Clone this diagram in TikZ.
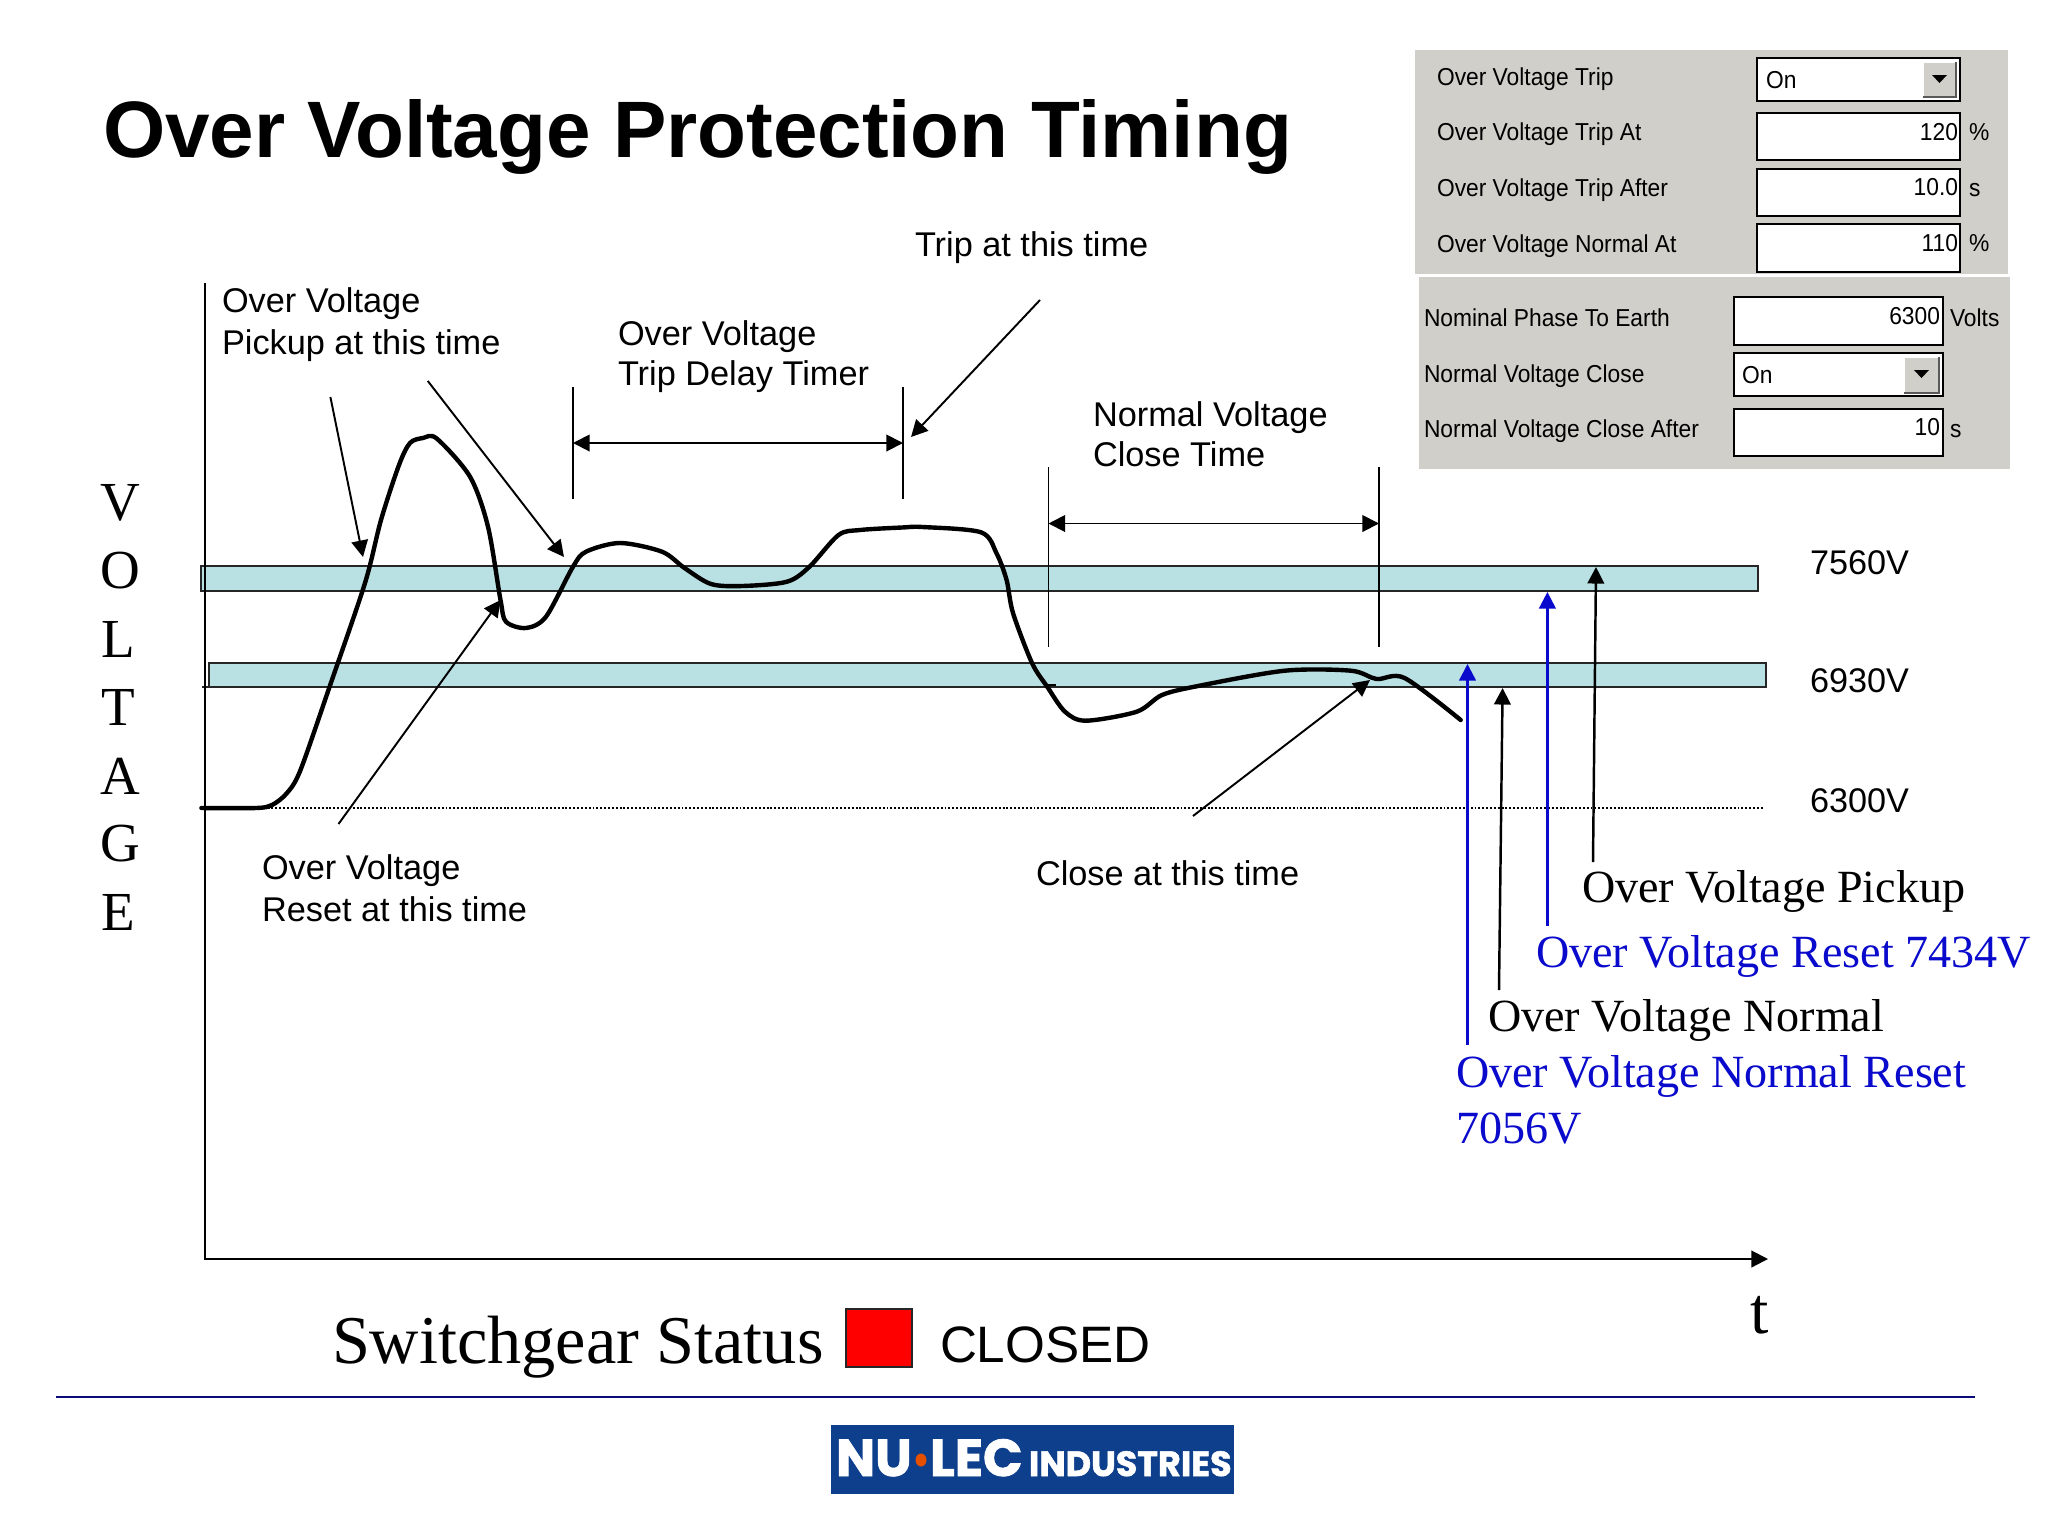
\documentclass[tikz,border=0pt]{standalone}
\usepackage{fontspec}
\setmainfont{Liberation Sans}
\newfontfamily\tmsf{Liberation Serif}
\newfontfamily\panf[FakeStretch=0.93]{Liberation Sans}
\newfontfamily\logof[BoldFeatures={FakeBold=1.5}]{Poppins}
\usetikzlibrary{arrows.meta}
\definecolor{bandc}{HTML}{B9E0E3}
\definecolor{panelc}{HTML}{D1CFC9}
\definecolor{bluec}{HTML}{0A0ACD}
\definecolor{logoc}{HTML}{0D3F8C}
\definecolor{ruleb}{HTML}{0A0A78}
\newcommand{\fsz}[1]{\pgfmathsetmacro{\tmpa}{#1*0.2845}\pgfmathsetmacro{\tmpb}{#1*0.34}\fontsize{\tmpa}{\tmpb}\selectfont}
\tikzset{
  lab/.style={anchor=base west,inner sep=0pt,outer sep=0pt,font=\fsz{34.3}},
  lev/.style={lab,font=\fsz{34.2}},
  ser/.style={lab,font=\tmsf\fsz{46.1}},
  serb/.style={ser,text=bluec},
  vl/.style={anchor=base,inner sep=0pt,outer sep=0pt,font=\tmsf\fsz{55}},
  pl/.style={anchor=base west,inner sep=0pt,outer sep=0pt,font=\panf\fsz{24.5},text=black},
  pr/.style={pl,anchor=base east},
  thin1/.style={line width=0.55pt,black},
  arr/.style={thin1,-{Triangle[length=4.7pt,width=4.7pt]}},
  darr/.style={thin1,{Triangle[length=4.7pt,width=4.7pt]}-{Triangle[length=4.7pt,width=4.7pt]}},
  barr/.style={arr,bluec,line width=0.7pt},
  barb/.style={arr,line width=0.7pt},
  band/.style={fill=bandc,draw=black!85,line width=0.55pt},
  field/.style={fill=white,draw=black,line width=0.6pt},
  pan/.style={fill=panelc,draw=none},
  btn/.style={fill=panelc,draw=none},
  curve/.style={line width=1.25pt,black,line join=round,line cap=round},
}
\begin{document}
\begin{tikzpicture}[x=0.01cm,y=-0.01cm]
\useasboundingbox (0,0) rectangle (2048,1536);
\fill[white] (0,0) rectangle (2048,1536);
% panels
\fill[pan] (1415,50) rectangle (2008,274);
\fill[pan] (1419,277) rectangle (2010,469);
\draw[field] (1757,58) rectangle (1960,101);
\draw[field] (1757,113) rectangle (1960,160);
\draw[field] (1757,169) rectangle (1960,216);
\draw[field] (1757,224) rectangle (1960,272);
\draw[field] (1734,297) rectangle (1943,345);
\draw[field] (1734,353) rectangle (1943,396);
\draw[field] (1734,409) rectangle (1943,456);
\fill[btn] (1923,62) rectangle (1956,97);
\draw[white,line width=0.4pt] (1923,97) -- (1923,62) -- (1956,62);
\draw[black!65,line width=0.6pt] (1923,97) -- (1956,97) -- (1956,62);
\fill[black] (1932,75) -- (1947,75) -- (1939.5,83) -- cycle;
\fill[btn] (1904,357) rectangle (1939,393);
\draw[white,line width=0.4pt] (1904,393) -- (1904,357) -- (1939,357);
\draw[black!65,line width=0.6pt] (1904,393) -- (1939,393) -- (1939,357);
\fill[black] (1914,370) -- (1929,370) -- (1921.5,378) -- cycle;
\node[pl] (p1) at (1437,85) {Over Voltage Trip};
\node[pl] (p2) at (1437,140) {Over Voltage Trip At};
\node[pl] (p3) at (1437,196) {Over Voltage Trip After};
\node[pl] (p4) at (1437,252) {Over Voltage Normal At};
\node[pl] (p5) at (1424,326) {Nominal Phase To Earth};
\node[pl] (p6) at (1424,382) {Normal Voltage Close};
\node[pl] (p7) at (1424,437) {Normal Voltage Close After};
\node[pl] (v1) at (1766,88) {On};
\node[pr] (v2) at (1958,140) {120};
\node[pr] (v3) at (1958,195) {10.0};
\node[pr] (v4) at (1958,251) {110};
\node[pl] (u2) at (1969,140) {\%};
\node[pl] (u3) at (1969,196) {s};
\node[pl] (u4) at (1969,251) {\%};
\node[pr] (v5) at (1940,324) {6300};
\node[pl] (v6) at (1742,383) {On};
\node[pr] (v7) at (1940,435) {10};
\node[pl] (u5) at (1950,326) {Volts};
\node[pl] (u7) at (1950,437) {s};
% title
\node[lab,font=\bfseries\fsz{80}] (title) at (103,157) {Over Voltage Protection Timing};
% bands
\draw[band] (201,566) rectangle (1758,591);
\draw[band] (209,663) rectangle (1766,687);
\draw[line width=0.5pt,black!85] (202,687) -- (209,687);
\draw[line width=0.45pt,black,dash pattern=on 0.55pt off 0.55pt] (256,808) -- (1764,808);
% axes
\coordinate (orig) at (205,1259);
\coordinate (ytop) at (205,283);
\coordinate (xend) at (1768,1259);
\draw[arr,line width=0.6pt] (ytop) -- (orig) -- (xend);
% brackets
\coordinate (t1a) at (573,387); \coordinate (t1b) at (573,499);
\coordinate (t2a) at (903,387); \coordinate (t2b) at (903,499);
\coordinate (t3a) at (1048.5,467); \coordinate (t3b) at (1048.5,647);
\coordinate (t4a) at (1379,467); \coordinate (t4b) at (1379,647);
\draw[thin1] (t1a) -- (t1b);
\draw[thin1] (t2a) -- (t2b);
\draw[thin1] (t3a) -- (t3b);
\draw[thin1] (t4a) -- (t4b);
\coordinate (d1a) at (573,443); \coordinate (d1b) at (903,443);
\coordinate (d2a) at (1048.5,523.5); \coordinate (d2b) at (1379,523.5);
\draw[darr] (d1a) -- (d1b);
\draw[darr] (d2a) -- (d2b);
% curve
\draw[curve] plot[smooth,tension=0.5] coordinates {
(201.4,808)(256,808)(272,805)(287,793)(300.5,770)(329.6,686.7)(365,583)(381,520)(399,465)(410,443)(423,438)(436.7,438.5)
(470,476.7)(488,526.7)(500.5,600)(506,621.7)(526,628)(546,616.7)(573,566.7)(586,551.7)(620,543)(662,551.7)
(684.5,568)(711,584)(742.5,586)(787,581.7)(809.5,566.7)(838.5,535)(860,530)(902,527.5)(922.4,527)(981,532.3)
(996.4,553)(1006.6,580)(1013,613)(1032,663)(1047.4,687)(1065,711.7)(1085.7,720.7)(1136.7,711.7)(1162,695)(1198,686)
(1284.7,670.7)(1351,670.7)(1376.5,679)(1404.6,678)(1460.7,720)};
\draw[line width=0.8pt] (1045,685) -- (1056,685);
% pointer arrows
\coordinate (a1s) at (330.4,397); \coordinate (a1e) at (363,557);
\coordinate (a2s) at (427.8,381); \coordinate (a2e) at (564,557);
\coordinate (a3s) at (338.5,824); \coordinate (a3e) at (500.5,600);
\coordinate (a4s) at (1040,300); \coordinate (a4e) at (911,437);
\coordinate (a5s) at (1193,816); \coordinate (a5e) at (1370,680);
\draw[arr] (a1s) -- (a1e);
\draw[arr] (a2s) -- (a2e);
\draw[arr] (a3s) -- (a3e);
\draw[arr] (a4s) -- (a4e);
\draw[arr] (a5s) -- (a5e);
\coordinate (b1s) at (1467.5,1045); \coordinate (b1e) at (1467.5,664);
\coordinate (b2s) at (1499,990); \coordinate (b2e) at (1502.6,688);
\coordinate (b3s) at (1547.4,926); \coordinate (b3e) at (1547.4,592);
\coordinate (b4s) at (1593,862); \coordinate (b4e) at (1596,567);
\draw[barr] (b1s) -- (b1e);
\draw[barb] (b2s) -- (b2e);
\draw[barr] (b3s) -- (b3e);
\draw[barb] (b4s) -- (b4e);
% labels
\node[lab] (l1) at (222,312) {Over Voltage};
\node[lab] (l2) at (222,354) {Pickup at this time};
\node[lab] (l3) at (618,345) {Over Voltage};
\node[lab] (l4) at (618,385) {Trip Delay Timer};
\node[lab] (l5) at (915,256) {Trip at this time};
\node[lab] (l6) at (1093,426) {Normal Voltage};
\node[lab] (l7) at (1093,466) {Close Time};
\node[lab] (l8) at (262,879) {Over Voltage};
\node[lab] (l9) at (262,921) {Reset at this time};
\node[lab] (l10) at (1036,885) {Close at this time};
\node[lev] (e1) at (1810,574) {7560V};
\node[lev] (e2) at (1810,692) {6930V};
\node[lev] (e3) at (1810,812) {6300V};
\node[ser] (s1) at (1582,902) {Over Voltage Pickup};
\node[serb] (s2) at (1536,967) {Over Voltage Reset 7434V};
\node[ser] (s3) at (1488,1031) {Over Voltage Normal};
\node[serb] (s4) at (1456,1087) {Over Voltage Normal Reset};
\node[serb] (s5) at (1456,1143) {7056V};
\node[lab,font=\tmsf\fsz{66}] (tt) at (1750,1333) {t};
\node[vl] (yv) at (120,520) {V};
\node[vl] (yo) at (120,588) {O};
\node[vl] (yl) at (118,657) {L};
\node[vl] (yt) at (118,725) {T};
\node[vl] (ya) at (120,794) {A};
\node[vl] (yg) at (120,861) {G};
\node[vl] (ye) at (118,930) {E};
% status
\node[lab,font=\tmsf\fsz{68.3}] (st) at (332,1363) {Switchgear Status};
\node[draw=black!85,fill=red,line width=0.7pt,inner sep=0pt,minimum width=6.6mm,minimum height=5.8mm] (sq) at (879,1338) {};
\node[lab,font=\fsz{51.2}] (cl) at (940,1362) {CLOSED};
\draw[ruleb,line width=0.7pt] (56,1397) -- (1975,1397);
% logo
\node[fill=logoc,draw=none,minimum width=40.3mm,minimum height=6.9mm,inner sep=0pt] (logo) at (1032.2,1459.5) {};
\node[lab,font=\logof\bfseries\fsz{52},text=white] (ln) at (836,1476) {NU};
\fill[orange!70!red!90!black] (921,1460) ellipse (5.5 and 6.5);
\node[lab,font=\logof\bfseries\fsz{52},text=white] (le) at (930,1476) {LEC};
\node[lab,font=\logof\bfseries\fsz{35},text=white] (li) at (1029,1476) {INDUSTRIES};
\end{tikzpicture}
\end{document}
